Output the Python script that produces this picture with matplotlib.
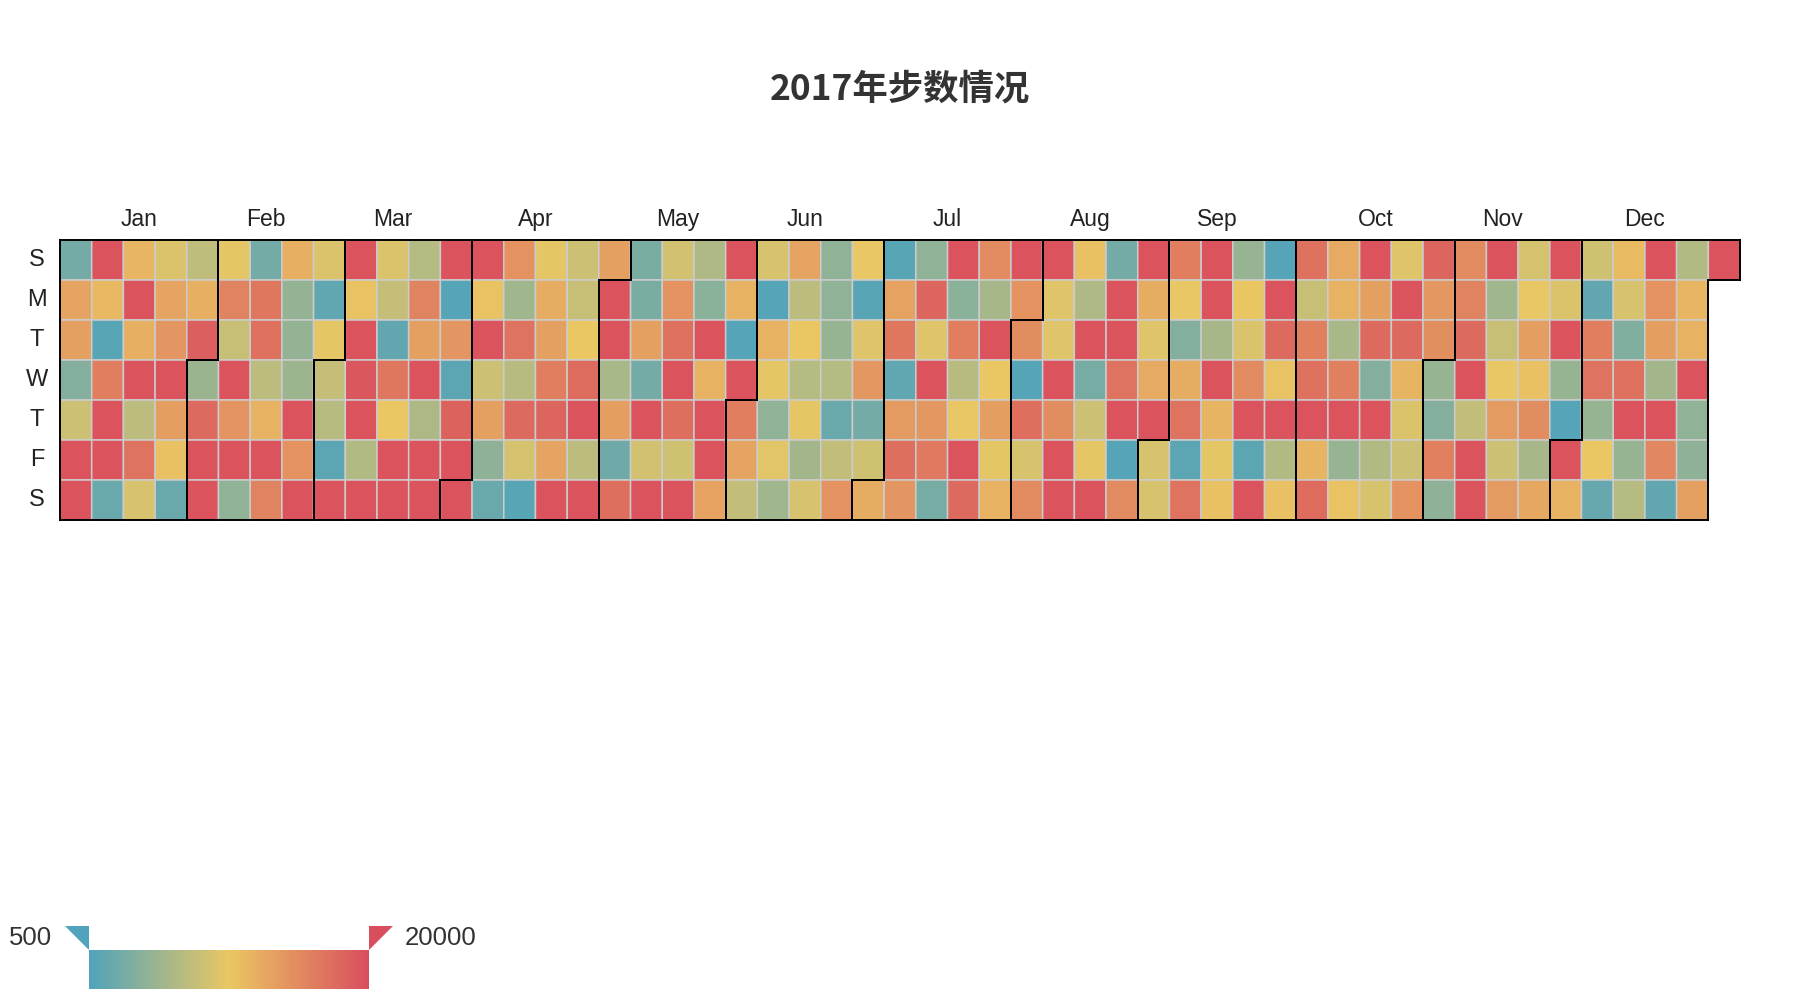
import numpy as np
import pandas as pd
import matplotlib
matplotlib.use("Agg")
import matplotlib.pyplot as plt
from matplotlib.colors import LinearSegmentedColormap, Normalize
from matplotlib.collections import LineCollection
from matplotlib.patches import Polygon

# ---------------- data (daily steps, 2017) ----------------
YEAR = 2017
jan = [2800, 13000, 13400, 3800, 8300, 19600, 19600,
       19600, 11400, 1100, 16100, 19600, 19600, 2100,
       11600, 19600, 12200, 19600, 7300, 16900, 9100,
       9300, 13000, 14200, 19600, 13600, 10800, 2100,
       7500, 12200, 18600]
feb = [5200, 17700, 19600, 19600,
       9900, 15700, 8100, 19600, 14300, 19600, 4600,
       2800, 16700, 17100, 7300, 12000, 19600, 15700,
       12200, 4800, 4800, 5400, 19600, 14500, 19600,
       9300, 1500, 9900]
mar = [7900, 7100, 1300, 19600,
       19600, 10600, 19600, 19200, 19600, 6700, 19600,
       9300, 7900, 1700, 16700, 10300, 19600, 19600,
       6900, 15700, 13400, 19600, 6400, 19600, 19600,
       19600, 900, 14200, 1300, 18400, 19600]
apr = [19600,
       19600, 10600, 19600, 8300, 13400, 4400, 2100,
       14500, 5600, 16900, 7100, 17700, 8900, 1100,
       9900, 12400, 13400, 16100, 18100, 13000, 19600,
       8300, 8100, 10300, 17500, 19600, 7300, 19600,
       13400]
may = [19600, 19600, 6200, 13600, 2500, 17300,
       3200, 3200, 13400, 2800, 19600, 8700, 19600,
       8700, 14500, 17100, 19600, 17300, 8500, 19600,
       6500, 4200, 19600, 12000, 19600, 19600, 13200,
       19600, 12000, 900, 19600]
jun = [16100, 13000, 7700,
       9100, 900, 12000, 9900, 4600, 9700, 5600,
       13000, 7300, 10300, 6900, 9900, 5800, 9100,
       4600, 4600, 5000, 6900, 2100, 7700, 14500,
       10100, 1100, 9500, 14000, 2800, 8500]
jul = [12400,
       1100, 13200, 16700, 1500, 13800, 17300, 14200,
       4600, 18100, 9500, 19600, 14000, 16500, 3000,
       19600, 4200, 16100, 7100, 10100, 19600, 17700,
       15100, 6000, 19600, 10300, 13600, 9900, 12000,
       19600, 14500]
aug = [14900, 900, 17300, 9100, 15100,
       19600, 9500, 9500, 19600, 14900, 19600, 19600,
       10800, 6500, 19600, 3000, 8300, 9900, 19600,
       2800, 19600, 19600, 16900, 19600, 900, 15100,
       19600, 12400, 9500, 12600, 19600]
sep = [9100, 9100,
       16100, 10100, 3800, 12400, 16900, 1300, 16900,
       19600, 19600, 6000, 19600, 11800, 9900, 10800,
       5000, 10400, 9300, 15100, 19600, 1300, 19600,
       900, 19600, 17700, 10600, 19600, 6700, 10800]
oct_ = [17100, 8100, 15900, 17100, 19600, 11800, 17500,
        12600, 12000, 6200, 15900, 19600, 5000, 10600,
        19600, 13400, 17700, 3800, 19600, 6700, 9100,
        9500, 19600, 17700, 11800, 9300, 8300, 14500,
        18100, 14000, 14700]
nov = [5000, 3800, 15900, 4400,
       15100, 15700, 17700, 19600, 7700, 19600, 19600,
       19600, 5600, 8100, 10100, 13800, 8300, 13800,
       8900, 10100, 13600, 10800, 14900, 6000, 12800,
       19600, 9300, 19600, 5000, 900]
dec = [19600, 12000,
       8500, 1700, 16100, 16900, 5000, 10300, 1900,
       11200, 9100, 3600, 17100, 19600, 5000, 6900,
       19600, 14500, 13600, 5800, 19600, 15300, 1700,
       6700, 11600, 12000, 19600, 4600, 4400, 13400,
       19600]

month_names = ["Jan", "Feb", "Mar", "Apr", "May", "Jun",
               "Jul", "Aug", "Sep", "Oct", "Nov", "Dec"]
day_names = ["S", "M", "T", "W", "T", "F", "S"]
vmin, vmax = 500, 20000
title = "2017年步数情况"

# ---------------- layout ----------------
steps = np.array(jan + feb + mar + apr + may + jun + jul + aug + sep + oct_ + nov + dec, dtype=float)
dates = pd.date_range(f"{YEAR}-01-01", f"{YEAR}-12-31", freq="D")
assert len(dates) == len(steps)

dow = ((dates.dayofweek + 1) % 7).to_numpy()          # Sunday = 0
first_dow = dow[0]
idx = np.arange(len(dates))
week = (idx + first_dow) // 7
n_weeks = week.max() + 1

grid = np.full((7, n_weeks), np.nan)
mid = np.full((7, n_weeks), -1)
grid[dow, week] = steps
mid[dow, week] = dates.month.to_numpy() - 1

cmap = LinearSegmentedColormap.from_list("steps", ["#50a3ba", "#eac763", "#d94e5d"])
norm = Normalize(vmin=vmin, vmax=vmax)

W, H = 1800, 1000
fig = plt.figure(figsize=(W / 100, H / 100), dpi=100)
fig.patch.set_facecolor("white")

gl, gr, gt, gb = 60, 1740, 240, 520
ax = fig.add_axes([gl / W, 1 - gb / H, (gr - gl) / W, (gb - gt) / H])
mesh = ax.pcolor(np.arange(n_weeks + 1), np.arange(8), np.ma.masked_invalid(grid),
                 cmap=cmap, norm=norm, edgecolors="#cccccc", linewidths=1.1)
ax.set_xlim(0, n_weeks)
ax.set_ylim(7, 0)
ax.axis("off")

# month outlines
def other(rr, cc):
    if rr < 0 or rr > 6 or cc < 0 or cc >= n_weeks:
        return -1
    return mid[rr, cc]

segs = []
for r in range(7):
    for c in range(n_weeks):
        m = mid[r, c]
        if m < 0:
            continue
        if other(r, c + 1) != m:
            segs.append([(c + 1, r), (c + 1, r + 1)])
        if other(r, c - 1) != m:
            segs.append([(c, r), (c, r + 1)])
        if other(r + 1, c) != m:
            segs.append([(c, r + 1), (c + 1, r + 1)])
        if other(r - 1, c) != m:
            segs.append([(c, r), (c + 1, r)])
ax.add_collection(LineCollection(segs, colors="black", linewidths=1.4,
                                 capstyle="projecting", clip_on=False, zorder=5))

label_font = "Liberation Sans"
for m in range(12):
    wk = week[dates.month.to_numpy() == m + 1]
    xc = (wk.min() + wk.max() + 1) / 2
    ax.text(xc, -0.52, month_names[m], ha="center", va="center",
            fontsize=16.5, family=label_font, color="#222222", clip_on=False)
for r, name in enumerate(day_names):
    ax.text(-0.72, r + 0.5, name, ha="center", va="center",
            fontsize=17, family=label_font, color="#222222", clip_on=False)

fig.text(0.5, 1 - 89 / H, title, ha="center", va="center", fontsize=25.5,
         fontweight="bold", color="#333333",
         family=["Noto Sans CJK SC", "DejaVu Sans"])

# visual map legend
bl, br, bt, bb = 89, 369, 950, 989
cax = fig.add_axes([bl / W, 1 - bb / H, (br - bl) / W, (bb - bt) / H])
cb = fig.colorbar(mesh, cax=cax, orientation="horizontal")
cb.outline.set_visible(False)
cax.set_xticks([])
cax.set_yticks([])
tw = 24 / (br - bl)
th = 24 / (bb - bt)
cax.add_patch(Polygon([(-tw, 1 + th), (0, 1 + th), (0, 1)], closed=True,
                      transform=cax.transAxes, clip_on=False,
                      facecolor=cmap(0.0), edgecolor="none"))
cax.add_patch(Polygon([(1, 1 + th), (1 + tw, 1 + th), (1, 1)], closed=True,
                      transform=cax.transAxes, clip_on=False,
                      facecolor=cmap(1.0), edgecolor="none"))
cax.text(-tw - 13 / (br - bl), 1 + th / 2, f"{vmin}", transform=cax.transAxes,
         ha="right", va="center", fontsize=18.5, family=label_font, color="#333333")
cax.text(1 + tw + 12 / (br - bl), 1 + th / 2, f"{vmax}", transform=cax.transAxes,
         ha="left", va="center", fontsize=18.5, family=label_font, color="#333333")

fig.savefig("out.png", dpi=100, facecolor="white")
